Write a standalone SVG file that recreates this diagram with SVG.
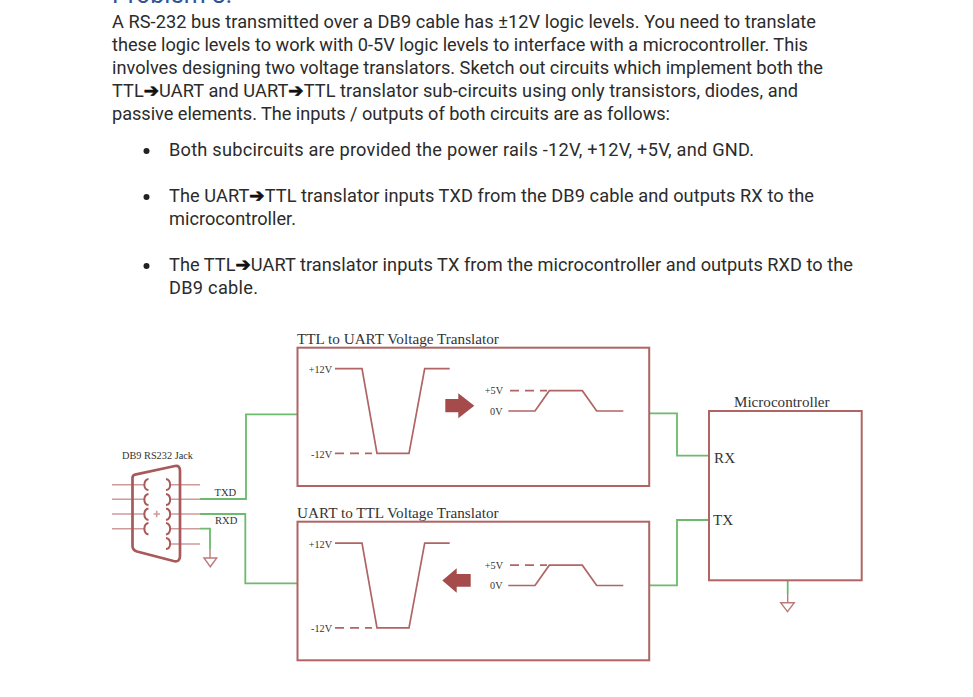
<svg xmlns="http://www.w3.org/2000/svg" width="973" height="697" viewBox="0 0 973 697">
<style>
.body{font-family:"Roboto","Liberation Sans",sans-serif;font-size:18.2px;fill:#2b2b2b}
.ar{font-family:"DejaVu Sans",sans-serif;font-weight:bold;fill:#111;stroke:#111;stroke-width:.7px}
.title{font-family:"Roboto","Liberation Sans",sans-serif;font-size:25px;fill:#2f5597}
.s{font-family:"Liberation Serif",serif;fill:#333}
.t14{font-size:15.2px}.t15{font-size:15.2px}.t10{font-size:10.2px}
.box{fill:none;stroke:#b06464;stroke-width:2}
.wave{fill:none;stroke:#b06464;stroke-width:1.7}
.dash{fill:none;stroke:#b06464;stroke-width:1.7;stroke-dasharray:9 6}
.arrow{fill:#a54b4b}
.pin{fill:none;stroke:#cf9a9a;stroke-width:1.6}
.wire{fill:none;stroke:#6cba6c;stroke-width:1.8}
.gnd{fill:none;stroke:#bd7a7a;stroke-width:1.4}
.shell{fill:none;stroke:#a85a5a;stroke-width:2.7;stroke-linejoin:round}
.cont{fill:none;stroke:#a85a5a;stroke-width:2}
</style>
<defs>
<g id="wavein">
<path class="wave" d="M335 368.7H362L377 453.3H409L424.7 368.7H449.7"/>
<path class="dash" d="M335 453.3H372"/>
</g>
<g id="waveout">
<path class="dash" d="M510 390.7H547"/>
<path class="wave" d="M508.3 411H535L549.3 390.7H582.3L596.7 411H623.3"/>
</g>
<g id="labels">
<text class="s t10" x="332" y="373" text-anchor="end">+12V</text>
<text class="s t10" x="332" y="457.500" text-anchor="end">-12V</text>
<text class="s t10" x="503" y="394" text-anchor="end">+5V</text>
<text class="s t10" x="502.500" y="414.500" text-anchor="end">0V</text>
</g>
</defs>

<g id="problem-text">
<text class="title" x="112" y="3">Problem 8:</text>
<text class="body" x="112" y="27.500" textLength="704" lengthAdjust="spacing">A RS-232 bus transmitted over a DB9 cable has ±12V logic levels. You need to translate</text>
<text class="body" x="112" y="50.500" textLength="696" lengthAdjust="spacing">these logic levels to work with 0-5V logic levels to interface with a microcontroller. This</text>
<text class="body" x="112" y="73.500" textLength="711" lengthAdjust="spacing">involves designing two voltage translators. Sketch out circuits which implement both the</text>
<text class="body" x="112" y="96.500" textLength="686" lengthAdjust="spacing">TTL<tspan class="ar">➔</tspan>UART and UART<tspan class="ar">➔</tspan>TTL translator sub-circuits using only transistors, diodes, and</text>
<text class="body" x="112" y="119.500" textLength="558" lengthAdjust="spacing">passive elements. The inputs / outputs of both circuits are as follows:</text>
<circle cx="146.500" cy="151" r="3" fill="#222"/>
<text class="body" x="169" y="155.500" textLength="585" lengthAdjust="spacing">Both subcircuits are provided the power rails -12V, +12V, +5V, and GND.</text>
<circle cx="146.500" cy="197" r="3" fill="#222"/>
<text class="body" x="169" y="201.500" textLength="645" lengthAdjust="spacing">The UART<tspan class="ar">➔</tspan>TTL translator inputs TXD from the DB9 cable and outputs RX to the</text>
<text class="body" x="169" y="224.500" textLength="127" lengthAdjust="spacing">microcontroller.</text>
<circle cx="146.500" cy="266" r="3" fill="#222"/>
<text class="body" x="169" y="270.500" textLength="684" lengthAdjust="spacing">The TTL<tspan class="ar">➔</tspan>UART translator inputs TX from the microcontroller and outputs RXD to the</text>
<text class="body" x="169" y="293.500" textLength="89" lengthAdjust="spacing">DB9 cable.</text>
</g>

<g id="connectors">
<path class="wire" d="M200 499H246V414.300H297.500"/>
<path class="wire" d="M200 514H245.300V583.300H297.500"/>
<path class="wire" d="M200 528.700H210V549"/>
<path class="wire" d="M649.500 413.300H677V455.700H709"/>
<path class="wire" d="M709 520H677V585.300H649.500"/>
<path class="wire" d="M787.700 580.300V594"/>
</g>

<g id="db9-jack">
<text class="s" font-size="10.300" x="122" y="458.500">DB9 RS232 Jack</text>
<path class="pin" d="M112 484.700H145M112 499.300H145M112 514H145M112 528.700H145"/>
<path class="pin" d="M170 484.700H200M170 499.300H200M170 514H200M170 528.700H200M170 544H200"/>
<path class="shell" d="M132.500 478Q132.500 475.500 135 474.600L175 466Q180 465 180 471V556Q180 562.500 173.500 561L137 551.500Q132.500 550 132.500 546Z"/>
<path class="cont" d="M148.500 479C143 480 143 490 148.500 490M148.500 494C143 495 143 504.500 148.500 505M148.500 508.500C143 509.500 143 519 148.500 520M148.500 523C143 524 143 533.500 148.500 534.500"/>
<path class="cont" d="M166 479C171.500 480 171.500 490 166 490M166 494C171.500 495 171.500 504.500 166 505M166 508.500C171.500 509.500 171.500 519 166 520M166 523C171.500 524 171.500 533.500 166 534.500M166 538C171.500 539 171.500 548.500 166 549"/>
<path class="pin" d="M153.500 514H160M156.700 510.800V517.200"/>
<text class="s" font-size="10.600" x="214.500" y="495.500">TXD</text>
<text class="s" font-size="10.600" x="215" y="523.500">RXD</text>
<path class="gnd" d="M210 549V558M204 558H216.700L210.300 566.700Z"/>
</g>

<g id="ttl-to-uart">
<text class="s t14" x="297" y="343.500">TTL to UART Voltage Translator</text>
<rect class="box" x="297.500" y="347.700" width="351.700" height="138.300"/>
<use href="#wavein"/><use href="#waveout"/><use href="#labels"/>
<path class="arrow" d="M445.300 399H458.300V393.300L474.300 405.700L458.300 418.300V412.300H445.300Z"/>
</g>

<g id="uart-to-ttl">
<text class="s t14" x="297" y="517.500">UART to TTL Voltage Translator</text>
<rect class="box" x="297.500" y="521.700" width="351.700" height="138.600"/>
<g transform="translate(0 174.500)"><use href="#wavein"/><use href="#waveout"/><use href="#labels"/></g>
<path class="arrow" d="M470.700 574H456.700V568.300L442.300 580.500L456.700 592.700V586.700H470.700Z"/>
</g>

<g id="microcontroller">
<text class="s" font-size="15.100" x="734" y="407">Microcontroller</text>
<rect class="box" x="709" y="411" width="152.700" height="169.300"/>
<text class="s t15" x="714" y="463">RX</text>
<text class="s t15" x="713" y="525">TX</text>
<path class="gnd" d="M787.700 594V602.700M780.700 602.700H794.300L787.500 611.700Z"/>
</g>
</svg>
